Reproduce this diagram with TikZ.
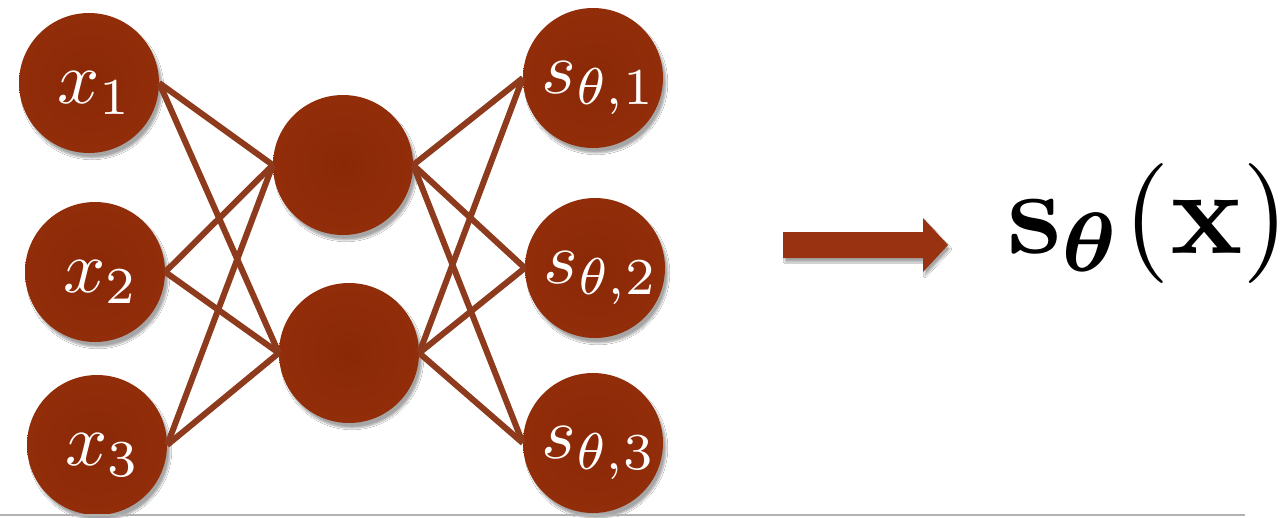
\documentclass[tikz,border=0pt]{standalone}
\usepackage{amsmath,bm}
\usepackage{graphicx}
\usetikzlibrary{shadows.blur}
\definecolor{nodered}{HTML}{922D0A}
\definecolor{nodeinner}{HTML}{8A2805}
\definecolor{edgecol}{HTML}{8E3A1D}
\definecolor{arrowcol}{HTML}{983210}
\newcommand{\biglbl}[1]{\scalebox{7.4}{$#1$}}
\tikzset{
  neuron/.style={circle, minimum size=140pt, inner sep=0pt, draw=none,
    inner color=nodeinner, outer color=nodered,
    blur shadow={shadow xshift=3pt, shadow yshift=-5pt, shadow blur steps=6, shadow opacity=35}},
  lbl/.style={text=white, inner sep=0pt},
  link/.style={draw=edgecol, line width=6pt},
}
\begin{document}
\begin{tikzpicture}[x=1pt, y=-1pt]
\useasboundingbox (0,0) rectangle (1287,517);
\fill[white] (0,0) rectangle (1287,517);
% input layer
\node[neuron] (x1) at (89,83) {};
\node[neuron] (x2) at (95,272) {};
\node[neuron] (x3) at (97,445) {};
% hidden layer
\node[neuron] (h1) at (343,165) {};
\node[neuron] (h2) at (349,353) {};
% output layer
\node[neuron] (s1) at (593,78) {};
\node[neuron] (s2) at (595,268) {};
\node[neuron] (s3) at (593,443) {};
% labels
\node[lbl] (lx1) at ([xshift=6pt,yshift=-10pt]x1.center) {\biglbl{x_1}};
\node[lbl] (lx2) at ([xshift=6pt,yshift=-10pt]x2.center) {\biglbl{x_2}};
\node[lbl] (lx3) at ([xshift=6pt,yshift=-10pt]x3.center) {\biglbl{x_3}};
\node[lbl] (ls1) at ([xshift=6pt,yshift=-10pt]s1.center) {\biglbl{s_{\theta,1}}};
\node[lbl] (ls2) at ([xshift=6pt,yshift=-10pt]s2.center) {\biglbl{s_{\theta,2}}};
\node[lbl] (ls3) at ([xshift=6pt,yshift=-10pt]s3.center) {\biglbl{s_{\theta,3}}};
% connections
\foreach \a in {x1,x2,x3}{
  \foreach \b in {h1,h2}{
    \draw[link] (\a.east) -- (\b.west);
  }
}
\foreach \a in {h1,h2}{
  \foreach \b in {s1,s2,s3}{
    \draw[link] (\a.east) -- (\b.west);
  }
}
% block arrow
\fill[arrowcol, blur shadow={shadow xshift=2pt, shadow yshift=-4pt, shadow blur steps=6, shadow opacity=35}]
  (783,232) -- (923,232) -- (923,218) -- (948,245) -- (923,272) -- (923,258) -- (783,258) -- cycle;
% result
\node[anchor=base west, inner sep=0pt] (res) at (1007,253)
  {\scalebox{12}{$\mathbf{s}_{\bm{\theta}}(\mathbf{x})$}};
% bottom edge line
\draw[gray!60, line width=2pt] (0,515) -- (1245,515);
\end{tikzpicture}
\end{document}
